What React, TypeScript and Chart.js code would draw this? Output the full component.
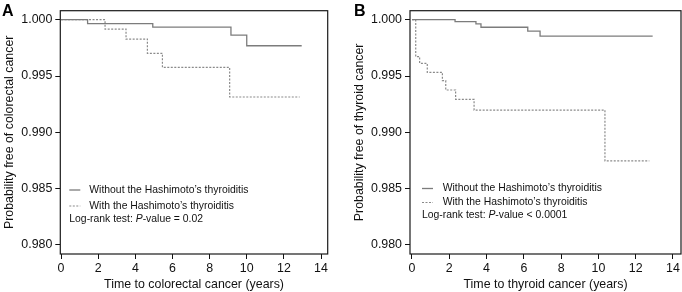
import React, { useEffect, useRef } from "react";
import { Chart, registerables } from "chart.js";

Chart.register(...registerables);

// ---------------- data ----------------
const xTicks = [0, 2, 4, 6, 8, 10, 12, 14];
const yTicks = [0.98, 0.985, 0.99, 0.995, 1.0];

const seriesLabels = ["Without the Hashimoto\u2019s thyroiditis", "With the Hashimoto\u2019s thyroiditis"];

const aTimesWithout = [0, 1.43, 4.94, 9.15, 10.0, 12.96];
const aSurvWithout = [1.0, 0.99966, 0.99935, 0.99864, 0.99769, 0.99769];
const aTimesWith = [0, 2.37, 3.5, 4.65, 5.46, 9.08, 12.85];
const aSurvWith = [1.0, 0.99917, 0.99828, 0.99701, 0.99576, 0.99314, 0.99314];

const bTimesWithout = [0, 2.31, 3.43, 3.7, 6.21, 6.87, 12.91];
const bSurvWithout = [1.0, 0.99983, 0.99963, 0.99933, 0.99898, 0.99855, 0.99855];
const bTimesWith = [0, 0.2, 0.41, 0.82, 1.63, 1.81, 2.34, 3.33, 10.35, 12.73];
const bSurvWith = [1.0, 0.99672, 0.99613, 0.99533, 0.99459, 0.99376, 0.99293, 0.99198, 0.98746, 0.98746];

const aLogRank = [
  { text: "Log-rank test: ", italic: false },
  { text: "P", italic: true },
  { text: "-value = 0.02", italic: false },
];
const bLogRank = [
  { text: "Log-rank test: ", italic: false },
  { text: "P", italic: true },
  { text: "-value < 0.0001", italic: false },
];

// ---------------- chart helpers ----------------
const FONT = '"Liberation Sans", Arial, Helvetica, sans-serif';
const AXIS_FONT_SIZE = 12.4;

const toPoints = (t: number[], s: number[]) => t.map((x, i) => ({ x, y: s[i] }));

const framePlugin = {
  id: "frameBox",
  afterDraw(chart: any, _args: any, opts: any) {
    const { ctx, chartArea } = chart;
    ctx.save();
    ctx.strokeStyle = "#1a1a1a";
    ctx.lineWidth = 1.2;
    ctx.setLineDash([]);
    ctx.strokeRect(chartArea.left, chartArea.top, chartArea.right - chartArea.left, chartArea.bottom - chartArea.top);
    ctx.fillStyle = "#000";
    ctx.font = `bold 16px ${FONT}`;
    ctx.textBaseline = "alphabetic";
    ctx.textAlign = "left";
    ctx.fillText(opts.letter, opts.letterX, opts.letterY);
    ctx.restore();
  },
};

const legendPlugin = {
  id: "kmLegend",
  afterDraw(chart: any, _args: any, opts: any) {
    const ctx = chart.ctx;
    ctx.save();
    ctx.textBaseline = "middle";
    ctx.textAlign = "left";
    chart.data.datasets.forEach((ds: any, i: number) => {
      const y = opts.rowY[i];
      ctx.strokeStyle = ds.borderColor;
      ctx.lineWidth = ds.borderWidth;
      ctx.setLineDash(ds.borderDash || []);
      ctx.beginPath();
      ctx.moveTo(opts.x, y);
      ctx.lineTo(opts.x + opts.lineLen, y);
      ctx.stroke();
      ctx.fillStyle = "#111";
      ctx.font = `${opts.fontSize}px ${FONT}`;
      ctx.fillText(ds.label, opts.textX, y);
    });
    let x = opts.x;
    for (const part of opts.logRank) {
      ctx.font = `${part.italic ? "italic " : ""}${opts.fontSize}px ${FONT}`;
      ctx.fillStyle = "#111";
      ctx.fillText(part.text, x, opts.logRankY);
      x += ctx.measureText(part.text).width;
    }
    ctx.restore();
  },
};

type PanelCfg = {
  letter: string;
  withoutT: number[];
  withoutS: number[];
  withT: number[];
  withS: number[];
  xTitle: string;
  yTitle: string;
  logRank: { text: string; italic: boolean }[];
  yAxisWidth: number;
  padRight: number;
  xMin: number;
  xMax: number;
  yTitlePad: number;
  legend: { x: number; lineLen: number; textX: number; rowY: number[]; logRankY: number };
};

function Panel({ cfg }: { cfg: PanelCfg }) {
  const ref = useRef<HTMLCanvasElement | null>(null);
  useEffect(() => {
    if (!ref.current) return;
    const chart = new Chart(ref.current, {
      type: "line",
      data: {
        datasets: [
          {
            label: seriesLabels[0],
            data: toPoints(cfg.withoutT, cfg.withoutS),
            borderColor: "#7c7c7c",
            borderWidth: 1.3,
            pointRadius: 0,
            stepped: "before",
            fill: false,
          },
          {
            label: seriesLabels[1],
            data: toPoints(cfg.withT, cfg.withS),
            borderColor: "#8a8a8a",
            borderWidth: 1.2,
            borderDash: [2, 1.5],
            pointRadius: 0,
            stepped: "before",
            fill: false,
          },
        ],
      },
      options: {
        animation: false,
        responsive: false,
        devicePixelRatio: 1,
        layout: { padding: { left: 0, top: 10.7, right: cfg.padRight, bottom: 0 } },
        plugins: {
          legend: { display: false },
          tooltip: { enabled: false },
          frameBox: { letter: cfg.letter, letterX: cfg.letter === "A" ? 2 : 13, letterY: 15.5 },
          kmLegend: { ...cfg.legend, fontSize: 10.4, logRank: cfg.logRank },
        } as any,
        scales: {
          x: {
            type: "linear",
            min: cfg.xMin,
            max: cfg.xMax,
            afterBuildTicks: (s: any) => {
              s.ticks = xTicks.map((v) => ({ value: v }));
            },
            afterFit: (s: any) => {
              s.height = 38;
            },
            grid: { drawOnChartArea: false, drawTicks: true, tickLength: 5, color: "#111", lineWidth: 1 },
            border: { display: false },
            ticks: {
              font: { family: FONT, size: AXIS_FONT_SIZE },
              color: "#111",
              padding: 2,
              maxRotation: 0,
              autoSkip: false,
              callback: (v: any) => String(v),
            },
            title: {
              display: true,
              text: cfg.xTitle,
              font: { family: FONT, size: AXIS_FONT_SIZE },
              color: "#111",
              padding: { top: 0, bottom: 0 },
            },
          },
          y: {
            type: "linear",
            min: 0.9792,
            max: 1.0008,
            afterBuildTicks: (s: any) => {
              s.ticks = yTicks.map((v) => ({ value: v }));
            },
            afterFit: (s: any) => {
              s.width = cfg.yAxisWidth;
            },
            grid: { drawOnChartArea: false, drawTicks: true, tickLength: 5, color: "#111", lineWidth: 1 },
            border: { display: false },
            ticks: {
              font: { family: FONT, size: AXIS_FONT_SIZE },
              color: "#111",
              padding: 3,
              autoSkip: false,
              callback: (v: any) => Number(v).toFixed(3),
            },
            title: {
              display: true,
              text: cfg.yTitle,
              font: { family: FONT, size: AXIS_FONT_SIZE },
              color: "#111",
              padding: { top: cfg.yTitlePad, bottom: 0 },
            },
          },
        },
      },
      plugins: [framePlugin, legendPlugin],
    } as any);
    return () => chart.destroy();
  }, [cfg]);
  return <canvas ref={ref} width={341} height={292} style={{ width: 341, height: 292, display: "block" }} />;
}

const panelA: PanelCfg = {
  letter: "A",
  withoutT: aTimesWithout,
  withoutS: aSurvWithout,
  withT: aTimesWith,
  withS: aSurvWith,
  xTitle: "Time to colorectal cancer (years)",
  yTitle: "Probability free of colorectal cancer",
  logRank: aLogRank,
  yAxisWidth: 60.3,
  padRight: 13.3,
  xMin: -0.04,
  xMax: 14.36,
  yTitlePad: 2,
  legend: { x: 69.3, lineLen: 11, textX: 89.3, rowY: [190, 206], logRankY: 219.5 },
};

const panelB: PanelCfg = {
  letter: "B",
  withoutT: bTimesWithout,
  withoutS: bSurvWithout,
  withT: bTimesWith,
  withS: bSurvWith,
  xTitle: "Time to thyroid cancer (years)",
  yTitle: "Probability free of thyroid cancer",
  logRank: bLogRank,
  yAxisWidth: 69,
  padRight: 1,
  xMin: -0.107,
  xMax: 14.43,
  yTitlePad: 11.5,
  legend: { x: 81, lineLen: 11, textX: 101.7, rowY: [188.5, 202.5], logRankY: 214.7 },
};

export default function App() {
  return (
    <div style={{ position: "fixed", left: 0, top: 0, width: 682, height: 292, display: "flex", background: "#fff" }}>
      <Panel cfg={panelA} />
      <Panel cfg={panelB} />
    </div>
  );
}
